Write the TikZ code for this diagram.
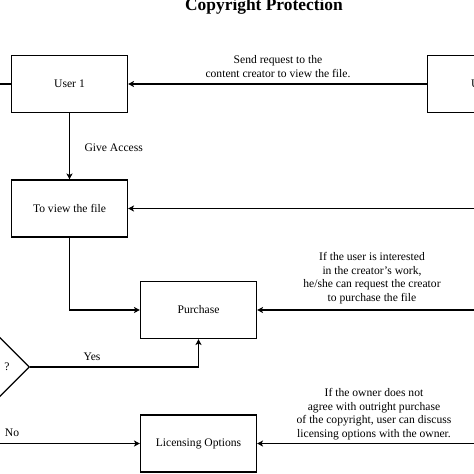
\documentclass[tikz,border=0pt]{standalone}
\usepackage{fontspec}
\setmainfont{Liberation Serif}
\usetikzlibrary{arrows.meta,shapes.geometric}

\begin{document}
\begin{tikzpicture}[x=1pt, y=-1pt,
    txt/.style={font=\fontsize{11.6}{13.6}\selectfont, align=center},
    box/.style={txt, draw, line width=1.1pt, minimum width=116pt, minimum height=57pt, inner sep=0pt},
    flow/.style={line width=1.1pt, -{Stealth[length=6pt, width=6pt, inset=1.5pt]}},
    wire/.style={line width=1.1pt}]
  \useasboundingbox (0,0) rectangle (474,474);
  \clip (0,0) rectangle (474,474);
  \node[anchor=base, font=\bfseries\fontsize{17.4}{20}\selectfont] (title) at (264,10) {Copyright Protection};
  % boxes
  \node[box] (user1) at (69.5,84) {User 1};
  \node[box, text width=29pt, align=left] (user2) at (485.5,84) {U};
  \node[box] (view) at (69.5,208.5) {To view the file};
  \node[box] (buy) at (198.5,310) {Purchase};
  \node[box] (lic) at (198.5,443.5) {Licensing Options};
  \node[draw, line width=1.1pt, diamond, aspect=1, minimum size=119pt] (ask) at (-30,367) {};
  \node[txt] (qmark) at (7,367) {?};
  % loose ends
  \coordinate (inU) at (0,84);
  \coordinate (inV) at (474,208.5);
  \coordinate (inB) at (474,310);
  \coordinate (inN) at (0,443.5);
  \coordinate (inL) at (474,443.5);
  % connectors
  \draw[wire] (inU) -- (user1.west);
  \draw[flow] (user2.west) -- (user1.east);
  \draw[flow] (user1.south) -- (view.north);
  \draw[flow] (inV) -- (view.east);
  \draw[flow] (view.south) |- (buy.west);
  \draw[flow] (inB) -- (buy.east);
  \draw[flow] (ask.east) -| (buy.south);
  \draw[flow] (inN) -- (lic.west);
  \draw[flow] (inL) -- (lic.east);
  % labels
  \node[txt] (sendlbl) at (278,66.5) {Send request to the\\content creator to view the file.};
  \node[txt, anchor=west] (givelbl) at (81,148) {Give Access};
  \node[txt] (buylbl) at (372,278) {If the user is interested\\in the creator's work,\\he/she can request the creator\\to purchase the file};
  \node[txt] (yeslbl) at (92,357) {Yes};
  \node[txt] (nolbl) at (12,433) {No};
  \node[txt] (liclbl) at (374,414) {If the owner does not\\agree with outright purchase\\of the copyright, user can discuss\\licensing options with the owner.};
\end{tikzpicture}
\end{document}
